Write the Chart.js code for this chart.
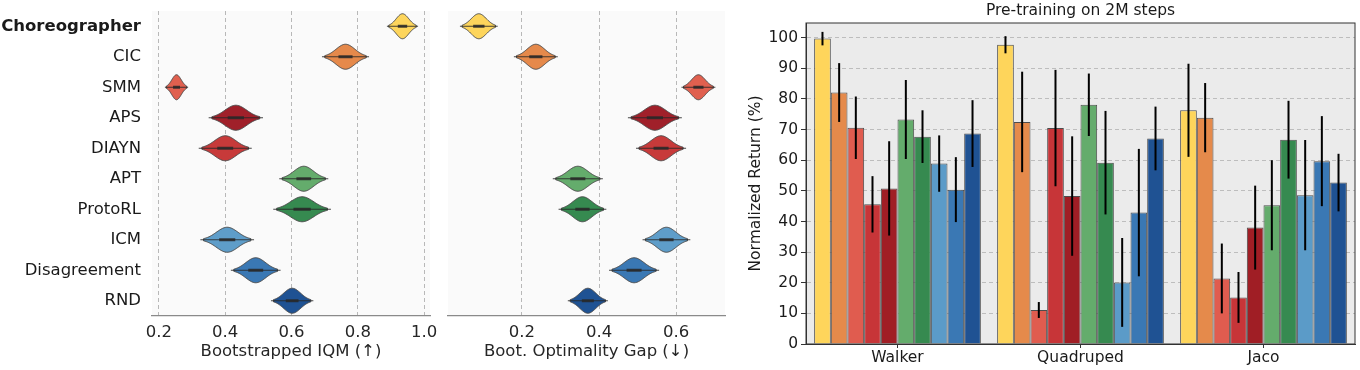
<!DOCTYPE html>
<html>
<head>
<meta charset="utf-8">
<script src="https://cdn.jsdelivr.net/npm/chart.js@4.4.1/dist/chart.umd.min.js"></script>
<style>
  body { margin: 0; background: #fff; width: 1360px; height: 370px; overflow: hidden; position: relative; }
  canvas { position: absolute; top: 0; }
  #iqm { left: 0; }
  #gap { left: 440px; }
  #bars { left: 730px; }
</style>
</head>
<body>
<canvas id="iqm" width="440" height="370"></canvas>
<canvas id="gap" width="290" height="370"></canvas>
<canvas id="bars" width="630" height="370"></canvas>
<script>
// Methods (violin panels, top to bottom)
const methods = ['Choreographer', 'CIC', 'SMM', 'APS', 'DIAYN', 'APT', 'ProtoRL', 'ICM', 'Disagreement', 'RND'];
const methodColors = ['#fdd55c', '#e5894b', '#e0604f', '#a0202a', '#c73a3a', '#64ac6c', '#368a50', '#5e9dc9', '#3a78b4', '#1f5293'];

// Bootstrapped IQM: centre and half-range of the bootstrap distribution
const iqmMid = [0.935, 0.763, 0.253, 0.432, 0.400, 0.637, 0.632, 0.406, 0.492, 0.602];
const iqmSpread = [0.047, 0.071, 0.035, 0.082, 0.080, 0.074, 0.087, 0.081, 0.075, 0.064];
const iqmTicks = [0.2, 0.4, 0.6, 0.8, 1.0];

// Bootstrapped optimality gap
const gapMid = [0.088, 0.236, 0.658, 0.545, 0.561, 0.345, 0.357, 0.575, 0.491, 0.371];
const gapSpread = [0.049, 0.057, 0.044, 0.070, 0.065, 0.065, 0.062, 0.062, 0.065, 0.052];
const gapTicks = [0.2, 0.4, 0.6];

// Bar panel
const domains = ['Walker', 'Quadruped', 'Jaco'];
const barMethods = ['Choreographer', 'CIC', 'SMM', 'DIAYN', 'APS', 'APT', 'ProtoRL', 'ICM', 'Disagreement', 'RND'];
const barColors = ['#fed55b', '#e58a4b', '#e05c4f', '#c73538', '#a01e25', '#64ac6c', '#368a50', '#5b9bc8', '#3a78b4', '#1f5293'];
// one row per method: [Walker, Quadruped, Jaco]
const barValues = [
  [99.7, 97.7, 76.3],
  [82.1, 72.5, 73.9],
  [70.6, 11.1, 21.4],
  [45.6, 70.5, 15.2],
  [50.8, 48.3, 38.0],
  [73.3, 78.1, 45.3],
  [67.7, 59.2, 66.7],
  [58.9, 20.1, 48.6],
  [50.4, 42.9, 59.7],
  [68.7, 67.1, 52.7]
];
const barErrors = [
  [2.2, 2.8, 15.2],
  [9.6, 16.4, 11.3],
  [10.2, 2.6, 11.4],
  [9.2, 19.0, 8.3],
  [15.4, 19.5, 13.7],
  [12.9, 10.2, 14.7],
  [8.6, 16.9, 12.7],
  [9.2, 14.5, 18.0],
  [10.6, 20.8, 14.7],
  [10.9, 10.4, 9.4]
];
const returnTicks = [0, 10, 20, 30, 40, 50, 60, 70, 80, 90, 100];

const FONT = "'DejaVu Sans', sans-serif";
Chart.defaults.font.family = FONT;
Chart.defaults.color = '#262626';
Chart.defaults.animation = false;

// fill the plotting area
const areaBg = {
  id: 'areaBg',
  beforeDraw(chart, args, opts) {
    const { ctx, chartArea: a } = chart;
    ctx.save();
    ctx.fillStyle = opts.color;
    ctx.fillRect(a.left, a.top, a.right - a.left, a.bottom - a.top);
    ctx.restore();
  }
};

// violins drawn at each point of the scatter dataset
const violins = {
  id: 'violins',
  afterDatasetsDraw(chart, args, opts) {
    const { ctx } = chart;
    const xs = chart.scales.x, ys = chart.scales.y;
    const rowH = ys.height / methods.length;
    const halfH = rowH * 0.41;
    const mids = opts.mids, spreads = opts.spreads;
    ctx.save();
    for (let i = 0; i < mids.length; i++) {
      const cx = xs.getPixelForValue(mids[i]);
      const cy = ys.getPixelForValue(i);
      const R = Math.abs(xs.getPixelForValue(mids[i] + spreads[i]) - cx);
      const sd = R / 2.5, lim = R * 0.88;
      ctx.beginPath();
      for (let k = 0; k <= 60; k++) {
        const dx = -lim + 2 * lim * k / 60;
        ctx.lineTo(cx + dx, cy - halfH * Math.exp(-0.5 * (dx / sd) ** 2));
      }
      for (let k = 60; k >= 0; k--) {
        const dx = -lim + 2 * lim * k / 60;
        ctx.lineTo(cx + dx, cy + halfH * Math.exp(-0.5 * (dx / sd) ** 2));
      }
      ctx.closePath();
      ctx.fillStyle = methodColors[i];
      ctx.fill();
      ctx.lineWidth = 1;
      ctx.strokeStyle = '#4a4a4a';
      ctx.stroke();
      // inner box
      ctx.strokeStyle = 'rgba(40,40,40,0.85)';
      ctx.lineWidth = 1;
      ctx.beginPath();
      ctx.moveTo(cx - R, cy);
      ctx.lineTo(cx + R, cy);
      ctx.stroke();
      ctx.lineWidth = 3;
      ctx.beginPath();
      ctx.moveTo(cx - R * 0.3, cy);
      ctx.lineTo(cx + R * 0.3, cy);
      ctx.stroke();
    }
    ctx.restore();
  }
};

function violinChart(id, mids, spreads, ticks, xmin, xmax, title, showLabels, labelWidth, pad) {
  new Chart(document.getElementById(id), {
    type: 'scatter',
    data: {
      datasets: [{
        data: methods.map((m, i) => ({ x: mids[i], y: m })),
        pointRadius: 0,
        pointHoverRadius: 0
      }]
    },
    options: {
      responsive: false,
      events: [],
      layout: { padding: pad },
      plugins: {
        legend: { display: false },
        tooltip: { enabled: false },
        areaBg: { color: '#fafafa' },
        violins: { mids: mids, spreads: spreads }
      },
      scales: {
        x: {
          type: 'linear',
          min: xmin,
          max: xmax,
          afterFit: (s) => { s.height = 54; s.paddingLeft = 0; s.paddingRight = 0; },
          afterBuildTicks: (s) => { s.ticks = ticks.map(v => ({ value: v })); },
          ticks: {
            padding: 7,
            font: { size: 16.5 },
            color: '#262626',
            callback: (v) => Number(v).toFixed(1)
          },
          grid: { color: '#b8b8b8', lineWidth: 1, drawTicks: false },
          border: { display: true, color: '#8a8a8a', width: 1.3, dash: [4, 3] },
          title: { display: true, text: title, font: { size: 16.5 }, color: '#262626', padding: { top: 0, bottom: 8 } }
        },
        y: {
          type: 'category',
          labels: methods,
          offset: true,
          display: showLabels,
          afterFit: (s) => { s.width = labelWidth; s.paddingTop = 0; s.paddingBottom = 0; },
          grid: { display: false, drawTicks: false },
          border: { display: false },
          ticks: {
            padding: 11,
            color: '#1a1a1a',
            font: (c) => ({ size: 16.5, weight: c.index === 0 ? 'bold' : 'normal' })
          }
        }
      }
    },
    plugins: [areaBg, violins]
  });
}

violinChart('iqm', iqmMid, iqmSpread, iqmTicks, 0.179, 1.018, 'Bootstrapped IQM (\u2191)', true, 152,
  { top: 11, right: 10, left: 0, bottom: 0 });
violinChart('gap', gapMid, gapSpread, gapTicks, 0.008, 0.727, 'Boot. Optimality Gap (\u2193)', false, 0,
  { top: 11, right: 5, left: 8, bottom: 0 });

// error bars, frame and title for the bar panel
const errorBars = {
  id: 'errorBars',
  afterDatasetsDraw(chart) {
    const { ctx } = chart;
    const ys = chart.scales.y;
    ctx.save();
    ctx.strokeStyle = '#000';
    ctx.lineWidth = 2;
    chart.data.datasets.forEach((ds, i) => {
      const meta = chart.getDatasetMeta(i);
      meta.data.forEach((bar, j) => {
        const v = ds.data[j], e = barErrors[i][j];
        ctx.beginPath();
        ctx.moveTo(bar.x, ys.getPixelForValue(v + e));
        ctx.lineTo(bar.x, ys.getPixelForValue(v - e));
        ctx.stroke();
      });
    });
    const a = chart.chartArea;
    ctx.strokeStyle = '#333';
    ctx.lineWidth = 1;
    ctx.strokeRect(a.left, a.top, a.right - a.left, a.bottom - a.top);
    ctx.fillStyle = '#1a1a1a';
    ctx.font = '15.5px ' + FONT;
    ctx.textAlign = 'center';
    ctx.textBaseline = 'middle';
    ctx.fillText('Pre-training on 2M steps', (a.left + a.right) / 2, 11);
    ctx.restore();
  }
};

new Chart(document.getElementById('bars'), {
  type: 'bar',
  data: {
    labels: domains,
    datasets: barMethods.map((m, i) => ({
      label: m,
      data: barValues[i],
      backgroundColor: barColors[i],
      borderColor: '#4d4d4d',
      borderWidth: 1,
      categoryPercentage: 0.911,
      barPercentage: 1.0
    }))
  },
  options: {
    responsive: false,
    events: [],
    layout: { padding: { top: 23, right: 5, left: 0, bottom: 0 } },
    plugins: {
      legend: { display: false },
      tooltip: { enabled: false },
      areaBg: { color: '#ebebeb' }
    },
    scales: {
      x: {
        afterFit: (s) => { s.height = 26; },
        grid: { offset: false, drawOnChartArea: false, color: '#333', tickLength: 4 },
        border: { color: '#333' },
        ticks: { font: { size: 15.5 }, color: '#1a1a1a', padding: 1 }
      },
      y: {
        min: 0,
        max: 104.8,
        afterFit: (s) => { s.width = 76; },
        afterBuildTicks: (s) => { s.ticks = returnTicks.map(v => ({ value: v })); },
        grid: { color: '#bdbdbd', tickColor: '#333', tickLength: 5, tickBorderDash: [] },
        border: { color: '#333', dash: [4, 3] },
        ticks: { font: { size: 15.5 }, color: '#1a1a1a', padding: 3 },
        title: { display: true, text: 'Normalized Return (%)', font: { size: 15.5 }, color: '#1a1a1a', padding: { top: 17, bottom: 0 } }
      }
    }
  },
  plugins: [areaBg, errorBars]
});
</script>
</body>
</html>
